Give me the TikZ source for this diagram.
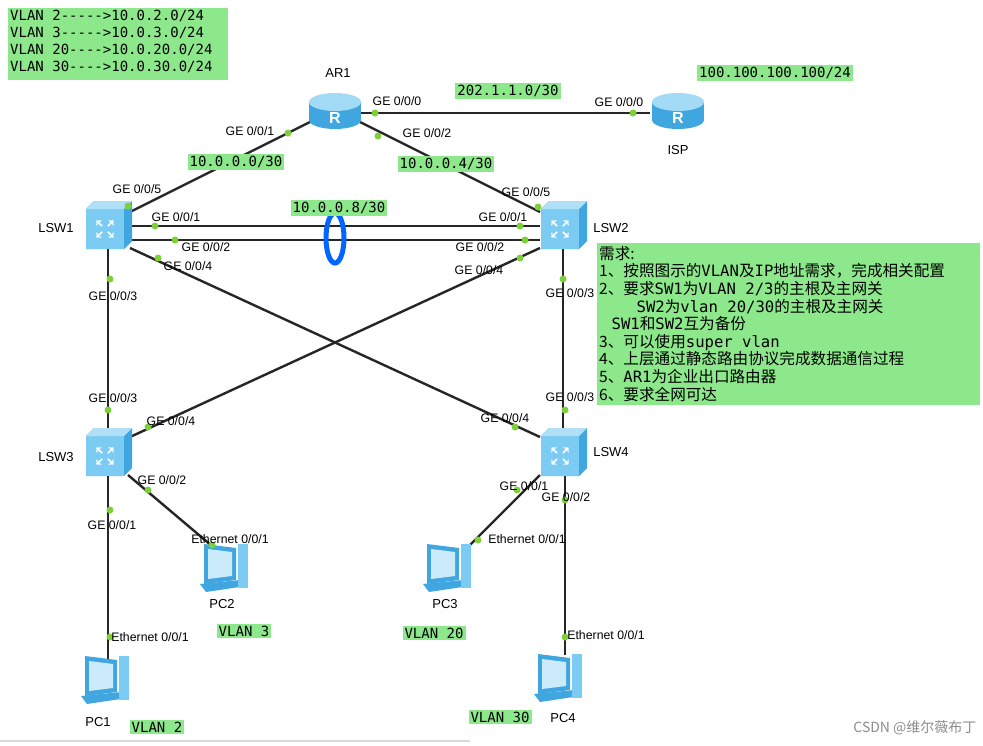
\documentclass[tikz,border=0pt]{standalone}
\usepackage{fontspec}
\setmainfont{Liberation Sans}
\newfontfamily\cjk{Noto Sans CJK SC}
\newfontfamily\mono{DejaVu Sans Mono}
\usetikzlibrary{calc}
\definecolor{lg}{HTML}{8CE88A}
\definecolor{dot}{HTML}{7ED03A}
\definecolor{dev}{HTML}{7CCBF2}
\definecolor{devd}{HTML}{3FA6E0}
\begin{document}
\begin{tikzpicture}[x=1pt,y=-1pt,
  lnk/.style={line width=2.4pt,black!85},
  dt/.style={circle,fill=dot,inner sep=0pt,minimum size=7pt},
  pl/.style={font=\fontsize{12.3}{13}\selectfont,inner sep=1pt},
  nm/.style={font=\fontsize{13}{14}\selectfont,inner sep=1pt},
  gb/.style={fill=lg,font=\mono\fontsize{14}{16}\selectfont,inner sep=2pt},
  router/.pic={
    \fill[devd] (-26,-8) rectangle (26,10);
    \fill[devd] (0,10) ellipse (26 and 9);
    \fill[dev!70] (0,-8) ellipse (26 and 9);
    \node[white,font=\bfseries\fontsize{16}{16}\selectfont] at (0,8) {R};
  },
  switch/.pic={
    \fill[devd] (-22,-16) -- (-14,-24) -- (24,-24) -- (24,16) -- (16,24) -- (-22,24) -- cycle;
    \fill[dev] (-22,-16) rectangle (16,24);
    \fill[dev!60] (-22,-16) -- (-14,-24) -- (24,-24) -- (16,-16) -- cycle;
    \foreach \a in {45,135,225,315} \draw[white,line width=1.5pt,->] ($(-3,4)+(\a:4)$) -- ($(-3,4)+(\a:12)$);
  },
  pc/.pic={
    \fill[devd] (-18,-24) -- (14,-20) -- (14,12) -- (-18,16) -- cycle;
    \fill[dev!40] (-14,-19) -- (10,-16) -- (10,8) -- (-14,11) -- cycle;
    \fill[devd] (-22,16) -- (18,12) -- (24,18) -- (-16,24) -- cycle;
    \fill[dev] (16,-24) rectangle (26,20);
  }]
\useasboundingbox (0,0) rectangle (983,745);
\fill[white] (0,0) rectangle (983,745);
\coordinate (AR1) at (335,110);
\coordinate (ISP) at (678,110);
\coordinate (SW1) at (108,225);
\coordinate (SW2) at (563,225);
\coordinate (SW3) at (108,452);
\coordinate (SW4) at (563,452);
\coordinate (PC1) at (103,680);
\coordinate (PC2) at (222,568);
\coordinate (PC3) at (445,568);
\coordinate (PC4) at (556,678);
\draw[lnk] (360,113) -- (650,113);
\draw[lnk] (310,122) -- (130,212);
\draw[lnk] (360,122) -- (540,212);
\draw[lnk] (130,226) -- (540,226);
\draw[lnk] (130,240) -- (540,240);
\draw[lnk] (130,248) -- (540,437);
\draw[lnk] (540,248) -- (130,437);
\draw[lnk] (108,248) -- (108,430);
\draw[lnk] (563,248) -- (563,430);
\draw[lnk] (108,475) -- (108,660);
\draw[lnk] (128,475) -- (212,546);
\draw[lnk] (540,475) -- (470,545);
\draw[lnk] (565,475) -- (565,655);
\draw[blue!60!cyan,line width=5pt] (335,238) ellipse (9 and 25);
\pic at (AR1) {router}; \pic at (ISP) {router};
\pic at (SW1) {switch}; \pic at (SW2) {switch};
\pic at (SW3) {switch}; \pic at (SW4) {switch};
\pic at (PC1) {pc}; \pic at (PC2) {pc}; \pic at (PC3) {pc}; \pic at (PC4) {pc};
\foreach \p in {(375,113),(633,113),(288,133),(128,206),(378,136),(538,207),(155,226),(520,226),(175,240),(525,240),(158,258),(515,427),(520,258),(148,427),(110,279),(108,410),(563,279),(565,410),(110,510),(110,637),(148,490),(212,545),(517,490),(478,540),(565,500),(565,637)}
  \node[dt] at \p {};
\node[nm] (nAR1) at (338,73) {AR1};
\node[nm] (nISP) at (678,150) {ISP};
\node[nm] (nSW1) at (56,228) {LSW1};
\node[nm] (nSW2) at (611,228) {LSW2};
\node[nm] (nSW3) at (56,457) {LSW3};
\node[nm] (nSW4) at (611,452) {LSW4};
\node[nm] (nPC1) at (98,722) {PC1};
\node[nm] (nPC2) at (222,604) {PC2};
\node[nm] (nPC3) at (445,604) {PC3};
\node[nm] (nPC4) at (563,718) {PC4};
\node[pl] (p1) at (397,101) {GE 0/0/0};
\node[pl] (p2) at (619,102) {GE 0/0/0};
\node[pl] (p3) at (250,131) {GE 0/0/1};
\node[pl] (p4) at (427,133) {GE 0/0/2};
\node[pl] (p5) at (137,189) {GE 0/0/5};
\node[pl] (p6) at (526,192) {GE 0/0/5};
\node[pl] (p7) at (176,217) {GE 0/0/1};
\node[pl] (p8) at (503,217) {GE 0/0/1};
\node[pl] (p9) at (206,247) {GE 0/0/2};
\node[pl] (p10) at (480,247) {GE 0/0/2};
\node[pl] (p11) at (188,266) {GE 0/0/4};
\node[pl] (p12) at (479,270) {GE 0/0/4};
\node[pl] (p13) at (113,296) {GE 0/0/3};
\node[pl] (p14) at (570,293) {GE 0/0/3};
\node[pl] (p15) at (113,398) {GE 0/0/3};
\node[pl] (p16) at (570,397) {GE 0/0/3};
\node[pl] (p17) at (171,421) {GE 0/0/4};
\node[pl] (p18) at (505,418) {GE 0/0/4};
\node[pl] (p19) at (162,480) {GE 0/0/2};
\node[pl] (p20) at (524,486) {GE 0/0/1};
\node[pl] (p21) at (566,497) {GE 0/0/2};
\node[pl] (p22) at (112,525) {GE 0/0/1};
\node[pl] (p23) at (230,539) {Ethernet 0/0/1};
\node[pl] (p24) at (527,539) {Ethernet 0/0/1};
\node[pl] (p25) at (150,637) {Ethernet 0/0/1};
\node[pl] (p26) at (606,635) {Ethernet 0/0/1};
\fill[lg] (8,8) rectangle (228,80);
\node[anchor=north west,align=left,font=\mono\fontsize{14}{17}\selectfont,inner sep=0pt] (leg) at (10,10) {VLAN 2----->10.0.2.0/24\\VLAN 3----->10.0.3.0/24\\VLAN 20---->10.0.20.0/24\\VLAN 30---->10.0.30.0/24};
\node[gb] (s1) at (508,91) {202.1.1.0/30};
\node[gb] (s2) at (775,73) {100.100.100.100/24};
\node[gb] (s3) at (236,162) {10.0.0.0/30};
\node[gb] (s4) at (446,164) {10.0.0.4/30};
\node[gb] (s5) at (339,208) {10.0.0.8/30};
\node[gb] (v3) at (244,631) {VLAN 3};
\node[gb] (v20) at (434,633) {VLAN 20};
\node[gb] (v2) at (157,727) {VLAN 2};
\node[gb] (v30) at (500,717) {VLAN 30};
\node[fill=lg,anchor=north west,minimum width=383pt,minimum height=162pt,inner sep=0pt] (req) at (597,243) {};
\node[anchor=north west,align=left,font=\cjk\fontsize{15.6}{17.6}\selectfont,inner sep=0pt] at (599,246)
{需求:\\
1、按照图示的{\mono VLAN}及{\mono IP}地址需求，完成相关配置\\
2、要求{\mono SW1}为{\mono VLAN 2/3}的主根及主网关\\
\hspace*{2.4em}{\mono SW2}为{\mono vlan 20/30}的主根及主网关\\
\hspace*{0.8em}{\mono SW1}和{\mono SW2}互为备份\\
3、可以使用{\mono super vlan}\\
4、上层通过静态路由协议完成数据通信过程\\
5、{\mono AR1}为企业出口路由器\\
6、要求全网可达};
\draw[black!15,line width=1.5pt] (0,741) -- (470,741);
\node[black!45,font=\cjk\fontsize{14}{15}\selectfont,anchor=east] (wm) at (980,728) {CSDN @维尔薇布丁};
\end{tikzpicture}
\end{document}
